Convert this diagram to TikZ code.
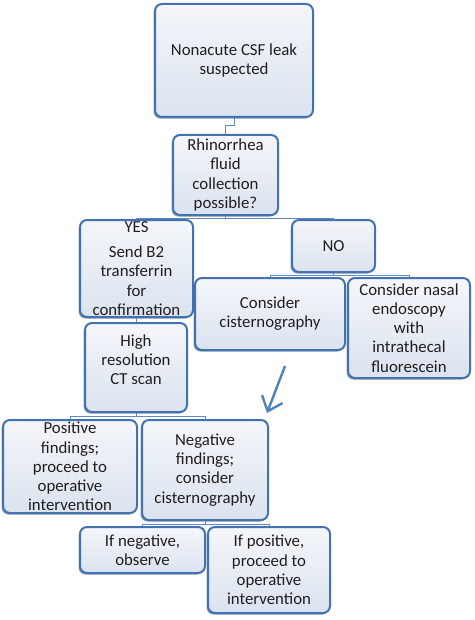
\documentclass[tikz,border=0pt]{standalone}
\usepackage{fontspec}
\setmainfont{Carlito}
\usetikzlibrary{arrows.meta,shadows}
\definecolor{boxedge}{RGB}{68,114,176}
\definecolor{boxtop}{RGB}{244,246,250}
\definecolor{boxbot}{RGB}{219,227,239}
\definecolor{linkblue}{RGB}{95,138,192}
\definecolor{arrowblue}{RGB}{79,129,189}
\definecolor{txtgray}{RGB}{30,30,30}

\begin{document}
\begin{tikzpicture}[x=1pt,y=-1pt,
  box/.style={draw=boxedge, line width=2pt, rounded corners=7pt,
    top color=boxtop, bottom color=boxbot, inner sep=0pt,
    drop shadow={shadow xshift=-1.4pt, shadow yshift=-1.6pt, opacity=0.55, fill=boxedge!65!black}},
  boxtext/.style={font=\fontsize{16.8}{19.2}\selectfont, text=txtgray, align=center, inner sep=0pt},
  link/.style={draw=linkblue, line width=1pt}]
  \useasboundingbox (0,0) rectangle (474,620);
  % boxes
  \node[box, minimum width=158, minimum height=113,
    label={[boxtext]center:{Nonacute CSF leak\\suspected}}] (leak) at (234,60.5) {};
  \node[box, minimum width=105, minimum height=80,
    label={[boxtext]center:{Rhinorrhea\\fluid\\collection\\possible?}}] (fluid) at (225.5,175) {};
  \node[box, minimum width=113, minimum height=97,
    label={[boxtext]center:{YES\\[6pt]Send B2\\transferrin\\for\\confirmation}}] (yes) at (136.5,268.5) {};
  \node[box, minimum width=83, minimum height=52,
    label={[boxtext]center:{NO}}] (no) at (333.5,246) {};
  \node[box, minimum width=150, minimum height=72,
    label={[boxtext]center:{Consider\\cisternography}}] (cist) at (270,314) {};
  \node[box, minimum width=122, minimum height=100,
    label={[boxtext]center:{Consider nasal\\endoscopy\\with\\intrathecal\\fluorescein}}] (endo) at (409,328) {};
  \node[box, minimum width=102, minimum height=89,
    label={[boxtext, yshift=8pt]center:{High\\resolution\\CT scan}}] (ct) at (136,367.5) {};
  \node[box, minimum width=134, minimum height=93,
    label={[boxtext]center:{Positive\\findings;\\proceed to\\operative\\intervention}}] (pos) at (70,466.5) {};
  \node[box, minimum width=126, minimum height=100,
    label={[boxtext]center:{Negative\\findings;\\consider\\cisternography}}] (neg) at (205,470) {};
  \node[box, minimum width=125, minimum height=46,
    label={[boxtext]center:{If negative,\\observe}}] (ifneg) at (142.5,550) {};
  \node[box, minimum width=122, minimum height=86,
    label={[boxtext]center:{If positive,\\proceed to\\operative\\intervention}}] (ifpos) at (269,570) {};
  % connectors
  \draw[link] (leak.south) -- ++(0,8) -| (fluid.north);
  \draw[link] (fluid.south) -- ++(0,2.5) -| (yes.north);
  \draw[link] (fluid.south) -- ++(0,2.5) -| (no.north);
  \draw[link] (yes.south) -- (yes.south |- ct.north);
  \draw[link] (no.south) -- ++(0,2.5) -| (cist.north);
  \draw[link] (no.south) -- ++(0,2.5) -| (endo.north);
  \draw[link] (ct.south) -- ++(0,3) -| (pos.north);
  \draw[link] (ct.south) -- ++(0,3) -| (neg.north);
  \draw[link] (neg.south) -- ++(0,3) -| (ifneg.north);
  \draw[link] (neg.south) -- ++(0,3) -| (ifpos.north);
  % loose arrow
  \coordinate (arrtail) at (285,366);
  \coordinate (arrtip) at (267,413);
  \draw[-{Straight Barb[length=13pt,width=22pt]}, line width=2.4pt, arrowblue] (arrtail) -- (arrtip);
\end{tikzpicture}
\end{document}
